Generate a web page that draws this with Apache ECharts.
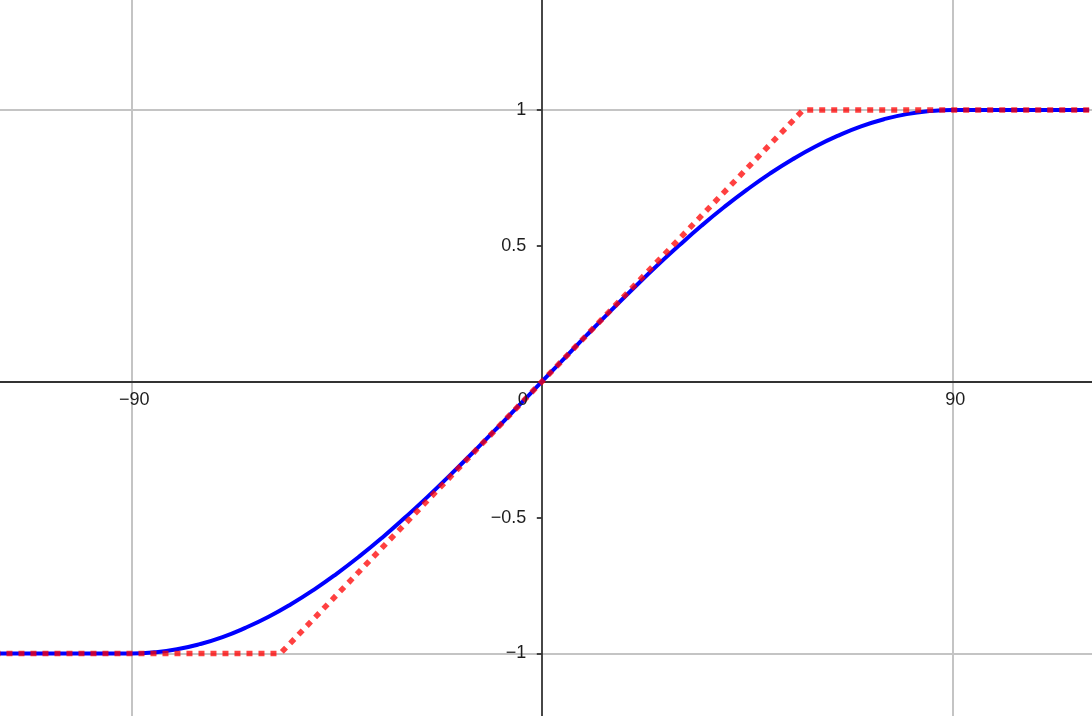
<!DOCTYPE html>
<html>
<head>
<meta charset="utf-8">
<script src="https://cdn.jsdelivr.net/npm/echarts@6/dist/echarts.min.js"></script>
<style>html,body{margin:0;padding:0;background:#fff}#c{width:1092px;height:716px}</style>
</head>
<body>
<div id="c"></div>
<script>
// Blue curve (degrees -> value)
const blueX = [-120,-90,-85,-80,-75,-70,-65,-60,-55,-50,-45,-40,-35,-30,-25,-20,-15,-10,-5,0,5,10,15,20,25,30,35,40,45,50,55,60,65,70,75,80,85,90,120];
const blueY = [-1,-1,-0.996,-0.985,-0.966,-0.94,-0.906,-0.866,-0.819,-0.766,-0.707,-0.643,-0.574,-0.5,-0.423,-0.342,-0.259,-0.174,-0.087,0,0.087,0.174,0.259,0.342,0.423,0.5,0.574,0.643,0.707,0.766,0.819,0.866,0.906,0.94,0.966,0.985,0.996,1,1];
// Red dotted line
const redX = [-120,-57.3,57.3,120];
const redY = [-1,-1,1,1];
// Ticks
const xTickValues = [-90,90];
const yTickValues = [-1,-0.5,0.5,1];
const xGrid = [-90,90];
const yGrid = [-1,1];

const fmt = v => String(v).replace('-', '\u2212');
const font = {fontSize:18,color:'#1e1e1e',fontFamily:'Liberation Sans, Arial, sans-serif'};
const chart = echarts.init(document.getElementById('c'), null, {renderer:'canvas'});
const labelPoints = [
  ...xTickValues.map(v=>({coord:[v,0],value:fmt(v),label:{position:'bottom',distance:9,offset:[3,0]}})),
  {coord:[0,0],value:'0',label:{position:'bottom',distance:9,offset:[-19,0]}},
  ...yTickValues.map(v=>({coord:[0,v],value:fmt(v),label:{position:'left',distance:15}}))
];
chart.setOption({
  animation:false,
  grid:{left:0,right:0,top:0,bottom:0,containLabel:false,outerBoundsMode:'none'},
  xAxis:{type:'value',min:-118.79,max:120.63,z:1,
    axisLine:{onZero:true,lineStyle:{color:'#333',width:1.8}},
    axisTick:{show:false},splitLine:{show:false},axisLabel:{show:false}
  },
  yAxis:{type:'value',min:-1.2304,max:1.405,z:1,
    axisLine:{onZero:true,lineStyle:{color:'#333',width:1.8}},
    axisTick:{show:true,customValues:yTickValues,length:5,lineStyle:{color:'#333',width:1.8}},
    splitLine:{show:false},axisLabel:{show:false}
  },
  series:[
    {type:'line',data:[],z:0,silent:true,
     markLine:{z:0,silent:true,symbol:['none','none'],label:{show:false},animation:false,
       lineStyle:{color:'#c4c4c4',width:2,type:'solid'},
       data:[...xGrid.map(v=>({xAxis:v})),...yGrid.map(v=>({yAxis:v}))]}},
    {type:'line',z:3,data:blueX.map((x,i)=>[x,blueY[i]]),showSymbol:false,smooth:0.5,
     lineStyle:{color:'#0000ff',width:4}},
    {type:'line',z:4,data:redX.map((x,i)=>[x,redY[i]]),showSymbol:false,
     lineStyle:{color:'rgba(255,0,0,0.75)',width:5.5,type:[6,6],cap:'butt'}},
    {type:'line',data:[],z:5,silent:true,
     markPoint:{silent:true,symbol:'circle',symbolSize:1,itemStyle:{color:'rgba(0,0,0,0)'},
       label:Object.assign({show:true,formatter:p=>p.value},font),
       data:labelPoints}}
  ]
});
</script>
</body>
</html>
